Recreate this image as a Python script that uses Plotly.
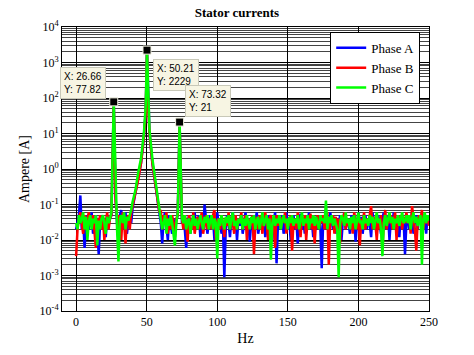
import math
import plotly.graph_objects as go

freq = [
    0, 1, 2, 3, 4, 5, 6, 7, 8, 9, 10, 11, 12, 13, 14, 15, 16, 17, 18, 19, 20, 21, 22, 23, 24, 25,
    26.66,
    28, 29, 30, 31, 32, 33, 34, 35, 36, 37, 38, 39, 40,
    42, 44, 46, 48, 49.3, 50.21, 51.2, 52, 54, 56, 58,
    59, 60, 61, 62, 63, 64, 65, 66, 67, 68, 69, 70, 71, 72,
    73.32,
    75, 76, 77, 78, 79, 80, 81, 82, 83, 84,
    85, 86, 87, 88, 89, 90, 91, 92, 93, 94,
    95, 96, 97, 98, 99, 100, 101, 102, 103, 104,
    105, 106, 107, 108, 109, 110, 111, 112, 113, 114,
    115, 116, 117, 118, 119, 120, 121, 122, 123, 124,
    125, 126, 127, 128, 129, 130, 131, 132, 133, 134,
    135, 136, 137, 138, 139, 140, 141, 142, 143, 144,
    145, 146, 147, 148, 149, 150, 151, 152, 153, 154,
    155, 156, 157, 158, 159, 160, 161, 162, 163, 164,
    165, 166, 167, 168, 169, 170, 171, 172, 173, 174,
    175, 176, 177, 178, 179, 180, 181, 182, 183, 184,
    185, 186, 187, 188, 189, 190, 191, 192, 193, 194,
    195, 196, 197, 198, 199, 200, 201, 202, 203, 204,
    205, 206, 207, 208, 209, 210, 211, 212, 213, 214,
    215, 216, 217, 218, 219, 220, 221, 222, 223, 224,
    225, 226, 227, 228, 229, 230, 231, 232, 233, 234,
    235, 236, 237, 238, 239, 240, 241, 242, 243, 244,
    245, 246, 247, 248, 249, 250,
]

phase_a = [
    .02, .03, .05, .18, .02, .04, .006, .03, .05, .02, .04, .06, .015, .035, .05, .02, .004, .03, .05, .025, .04, .012, .05, .03, .04, .05,
    70,
    .15, .03, .01, .05, .07, .02, .04, .06, .015, .035, .05, .03, .08,
    .2, .5, 1.5, 8, 40, 2000, 40, 10, 1.5, .4, .12,
    .05, .03, .008, .04, .06, .02, .01, .05, .03, .015, .04, .02, .035, .05,
    18,
    .03, .04, .02, .006, .03, .05, .015, .04, .025, .06,
    .02, .035, .05, .012, .03, .02, .1, .04, .015, .03,
    .05, .02, .04, .01, .03, .06, .025, .04, .015, .03,
    .0009, .02, .05, .03, .012, .04, .06, .02, .035, .01,
    .04, .025, .05, .015, .03, .06, .02, .04, .009, .03,
    .05, .02, .035, .06, .015, .03, .045, .02, .05, .012,
    .03, .05, .02, .04, .01, .035, .06, .0022, .03, .045,
    .02, .05, .015, .03, .06, .025, .04, .01, .035, .05,
    .02, .04, .008, .03, .055, .02, .04, .015, .05, .03,
    .06, .02, .035, .012, .045, .03, .02, .05, .025, .0016,
    .03, .05, .02, .04, .012, .06, .03, .02, .045, .015,
    .04, .025, .05, .01, .035, .06, .02, .04, .03, .015,
    .05, .02, .04, .009, .03, .06, .025, .045, .015, .035,
    .05, .02, .04, .03, .012, .06, .025, .045, .02, .05,
    .03, .015, .04, .06, .02, .035, .05, .01, .04, .025,
    .06, .02, .045, .03, .012, .05, .025, .04, .004, .03,
    .05, .02, .04, .06, .015, .035, .05, .02, .045, .03,
    .06, .02, .04, .015, .05, .03,
]

phase_b = [
    .0035, .02, .04, .06, .03, .015, .05, .02, .04, .06, .025, .03, .05, .02, .006, .04, .03, .05, .02, .045, .01, .03, .06, .02, .04, .05,
    65,
    .12, .04, .02, .05, .01, .06, .03, .008, .04, .05, .02, .06, .09,
    .2, .5, 1.5, 8, 38, 1900, 38, 10, 1.5, .4, .12,
    .06, .07, .02, .05, .03, .06, .015, .04, .02, .05, .03, .012, .04, .05,
    16,
    .04, .02, .05, .03, .009, .05, .03, .02, .06, .015,
    .03, .045, .02, .04, .06, .015, .03, .05, .02, .04,
    .03, .02, .05, .07, .01, .035, .04, .02, .05, .03,
    .012, .04, .025, .06, .02, .045, .03, .015, .05, .02,
    .04, .03, .06, .02, .035, .05, .01, .04, .025, .03,
    .05, .004, .03, .045, .02, .05, .035, .015, .04, .06,
    .03, .01, .04, .05, .02, .035, .006, .05, .025, .04,
    .02, .045, .03, .06, .015, .04, .025, .05, .005, .035,
    .04, .02, .06, .03, .012, .045, .025, .05, .01, .04,
    .03, .055, .02, .04, .008, .035, .05, .02, .045, .03,
    .05, .02, .035, .06, .002, .04, .03, .05, .015, .045,
    .02, .04, .008, .05, .03, .06, .02, .04, .025, .035,
    .04, .015, .06, .03, .02, .05, .007, .04, .03, .06,
    .02, .04, .03, .05, .09, .02, .045, .03, .01, .04,
    .02, .05, .005, .03, .07, .02, .04, .03, .05, .02,
    .035, .06, .01, .04, .025, .05, .02, .045, .03, .06,
    .03, .05, .015, .09, .04, .02, .005, .035, .05, .03,
    .07, .02, .04, .03, .05, .025,
]

phase_c = [
    .03, .02, .05, .03, .04, .06, .02, .045, .01, .035, .05, .02, .04, .03, .05, .007, .035, .02, .04, .05, .03, .015, .045, .03, .04, .06,
    77.82,
    .2, .02, .0025, .04, .05, .03, .06, .02, .045, .035, .05, .07, .12,
    .25, .8, 2, 10, 60, 2229, 50, 12, 2, .5, .15,
    .08, .04, .02, .03, .05, .015, .04, .025, .05, .03, .012, .007, .03, .06,
    21,
    .04, .03, .05, .02, .035, .04, .015, .03, .05, .025,
    .04, .02, .035, .05, .03, .02, .045, .03, .05, .02,
    .035, .05, .02, .04, .03, .003, .04, .025, .05, .03,
    .02, .045, .03, .05, .02, .04, .06, .025, .035, .02,
    .04, .03, .05, .02, .04, .025, .05, .03, .02, .045,
    .03, .05, .02, .035, .045, .02, .04, .06, .025, .035,
    .05, .02, .04, .0028, .03, .05, .025, .04, .03, .05,
    .02, .035, .05, .03, .04, .02, .045, .03, .05, .025,
    .04, .03, .05, .02, .035, .06, .025, .04, .03, .05,
    .02, .04, .03, .05, .025, .045, .03, .02, .05, .035,
    .04, .03, .13, .02, .045, .03, .05, .025, .04, .03,
    .02, .0009, .03, .05, .04, .025, .06, .03, .04, .02,
    .045, .03, .05, .02, .04, .06, .03, .035, .02, .05,
    .03, .04, .025, .05, .03, .045, .02, .04, .06, .03,
    .04, .02, .0035, .03, .05, .025, .04, .06, .03, .045,
    .02, .04, .03, .05, .025, .04, .06, .03, .035, .05,
    .03, .05, .02, .04, .06, .03, .045, .025, .04, .05,
    .002, .04, .06, .03, .05, .035,
]

tip_x = [26.66, 50.21, 73.32]
tip_y = [77.82, 2229, 21]

series_names = ["Phase A", "Phase B", "Phase C"]
series_colors = ["#0000ff", "#ff0000", "#00ff00"]

x_ticks = [0, 50, 100, 150, 200, 250]
y_exps = [-4, -3, -2, -1, 0, 1, 2, 3, 4]

serif = "Liberation Serif"

fig = go.Figure()
for name, col, vals in zip(series_names, series_colors, [phase_a, phase_b, phase_c]):
    fig.add_trace(go.Scatter(x=freq, y=vals, mode="lines", name=name,
                             line=dict(color=col, width=2.5)))

fig.add_trace(go.Scatter(x=tip_x, y=tip_y, mode="markers", showlegend=False,
                         marker=dict(symbol="square", size=8, color="black",
                                     line=dict(color="#f0f0e0", width=1))))

offsets = [
    dict(xanchor="right", yanchor="bottom", xshift=-8, yshift=3),
    dict(xanchor="left", yanchor="top", xshift=6, yshift=-9),
    dict(xanchor="left", yanchor="bottom", xshift=5, yshift=5),
]
for tx, ty, off in zip(tip_x, tip_y, offsets):
    fig.add_annotation(x=tx, y=math.log10(ty), xref="x", yref="y",
                       text=f"X: {tx:g}<br>Y: {ty:g}", showarrow=False,
                       align="left", font=dict(family="Liberation Sans", size=10, color="black"),
                       bgcolor="#f7f5e3", bordercolor="#c8c8b8", borderwidth=1, borderpad=3,
                       **off)

fig.update_layout(
    width=474, height=355,
    margin=dict(l=62, r=45, t=27, b=39),
    paper_bgcolor="white", plot_bgcolor="white",
    title=dict(text="<b>Stator currents</b>", x=0.5, xanchor="center",
               y=0.965, yanchor="middle",
               font=dict(family=serif, size=13, color="black")),
    font=dict(family=serif, color="black"),
    legend=dict(x=0.976, y=0.983, xanchor="right", yanchor="top",
                bgcolor="white", bordercolor="black", borderwidth=1,
                font=dict(family=serif, size=13, color="black"),
                tracegroupgap=0),
    showlegend=True,
)

fig.update_xaxes(range=[-10, 250], tickvals=x_ticks, ticktext=[str(v) for v in x_ticks],
                 showgrid=True, gridcolor="black", gridwidth=1,
                 showline=True, linecolor="black", linewidth=1, mirror=True,
                 ticks="inside", ticklen=4, tickcolor="black",
                 tickfont=dict(family=serif, size=12, color="black"),
                 title=dict(text="Hz", font=dict(family=serif, size=14, color="black"), standoff=4),
                 zeroline=False)

fig.update_yaxes(type="log", range=[-4, 4],
                 tickvals=[10 ** e for e in y_exps],
                 ticktext=[f"10<sup>{e}</sup>" for e in y_exps],
                 showgrid=True, gridcolor="black", gridwidth=1,
                 minor=dict(showgrid=True, gridcolor="#444444", gridwidth=1, dtick="D1"),
                 showline=True, linecolor="black", linewidth=1, mirror=True,
                 ticks="inside", ticklen=4, tickcolor="black",
                 tickfont=dict(family=serif, size=12, color="black"),
                 title=dict(text="Ampere [A]", font=dict(family=serif, size=14, color="black"), standoff=6),
                 zeroline=False)

fig.write_html("out.html")
